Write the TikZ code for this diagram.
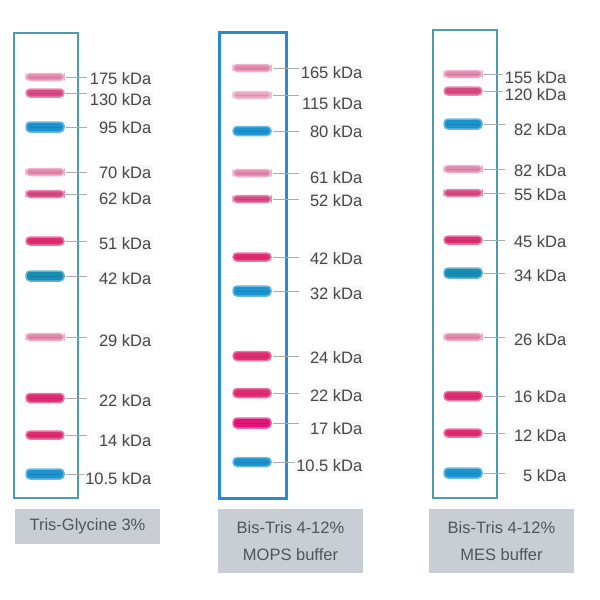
\documentclass[tikz,border=0pt]{standalone}
\usepackage{fontspec}
\setmainfont{Liberation Sans}
\definecolor{pinkL}{HTML}{E48AAE}
\definecolor{pinkP}{HTML}{EBA3C0}
\definecolor{pinkM}{HTML}{D84A82}
\definecolor{pinkV}{HTML}{E02C72}
\definecolor{pinkX}{HTML}{E0157A}
\definecolor{blueB}{HTML}{1B93CF}
\definecolor{blueT}{HTML}{178CB4}
\definecolor{laneA}{HTML}{4F9AB3}
\definecolor{laneB}{HTML}{2A8CD0}
\definecolor{capfill}{HTML}{C9CED4}
\definecolor{captext}{HTML}{50555C}
\definecolor{lbltext}{HTML}{474747}
\definecolor{leadc}{HTML}{ABABAB}
\tikzset{
  band/.style={rectangle, rounded corners=4pt, minimum width=38pt, minimum height=6pt,
    inner sep=0pt, fill=#1, draw=#1!65, line width=1.5pt,
    path picture={\draw[#1!80!black, line width=1pt, opacity=0.5]
      ([xshift=3pt]path picture bounding box.west) -- ([xshift=-3pt]path picture bounding box.east);}},
  leader/.style={draw=leadc, line width=0.8pt},
  lbl/.style={anchor=east, inner sep=1.5pt, fill=black!3, text=lbltext,
    font=\fontsize{16.5}{19}\selectfont, text height=12pt, text depth=0pt},
  lanebox/.style={draw=laneA, line width=2pt},
  capbox/.style={fill=capfill, text=captext, inner sep=0pt, align=center,
    font=\fontsize{16.5}{27}\selectfont},
}
\begin{document}
\begin{tikzpicture}[x=1pt,y=-1pt]
\useasboundingbox[fill=white] (0,0) rectangle (600,600);
% lanes
\node[lanebox, rectangle, minimum width=64pt, minimum height=465pt, inner sep=0pt] (lane1) at (46,265.5) {};
\node[lanebox, draw=laneB, line width=3pt, rectangle, minimum width=67pt, minimum height=466pt, inner sep=0pt] (lane2) at (252.5,265) {};
\node[lanebox, rectangle, minimum width=64pt, minimum height=468pt, inner sep=0pt] (lane3) at (465,264) {};
% lane 1
\foreach \by/\ly/\t/\c/\h [count=\i] in {77/78/175/pinkL/7, 93/99/130/pinkM/8, 127/127/95/blueB/10,
   172/172/70/pinkL/7, 194/198/62/pinkM/7, 241/243/51/pinkV/8, 276/278/42/blueT/10,
   337/340/29/pinkL/7, 398/400/22/pinkV/9, 435/440/14/pinkV/8, 474/478/10.5/blueB/10}{
  \node[band=\c, minimum height=\h pt] (a\i) at (45,\by) {};
  \coordinate (ae\i) at (87,\by);
  \draw[leader] ([xshift=1pt]a\i.east) -- (ae\i);
  \node[lbl] (al\i) at (153,\ly) {\t\ kDa};
}
% lane 2
\foreach \by/\ly/\t/\c/\h [count=\i] in {68/72/165/pinkL/7, 95/103/115/pinkP/7, 131/131/80/blueB/9,
   173/177/61/pinkL/7, 199/200/52/pinkM/7, 257/258/42/pinkV/8, 291/293/32/blueB/10,
   356/357/24/pinkV/9, 393/395/22/pinkV/9, 423/428/17/pinkX/10, 462/465/10.5/blueB/9}{
  \node[band=\c, minimum height=\h pt] (b\i) at (252,\by) {};
  \coordinate (be\i) at (299,\by);
  \draw[leader] ([xshift=1pt]b\i.east) -- (be\i);
  \node[lbl] (bl\i) at (364,\ly) {\t\ kDa};
}
% lane 3
\foreach \by/\ly/\t/\c/\h [count=\i] in {74/77/155/pinkL/7, 91/94/120/pinkM/8, 124/129/82/blueB/10,
   169/170/82/pinkL/7, 193/194/55/pinkM/7, 240/241/45/pinkV/8, 273/275/34/blueT/10,
   337/339/26/pinkL/7, 396/396/16/pinkV/9, 433/435/12/pinkV/8, 473/475/5/blueB/10}{
  \node[band=\c, minimum height=\h pt] (c\i) at (463,\by) {};
  \coordinate (ce\i) at (505,\by);
  \draw[leader] ([xshift=1pt]c\i.east) -- (ce\i);
  \node[lbl] (cl\i) at (568,\ly) {\t\ kDa};
}
% captions
\node[capbox, minimum width=145pt, minimum height=35pt] (cap1) at (87.5,526.5) {Tris-Glycine 3\%};
\node[capbox, minimum width=145pt, minimum height=64pt] (cap2) at (290.5,541) {Bis-Tris 4-12\%\\MOPS buffer};
\node[capbox, minimum width=145pt, minimum height=64pt] (cap3) at (501.5,541) {Bis-Tris 4-12\%\\MES buffer};
\end{tikzpicture}
\end{document}
